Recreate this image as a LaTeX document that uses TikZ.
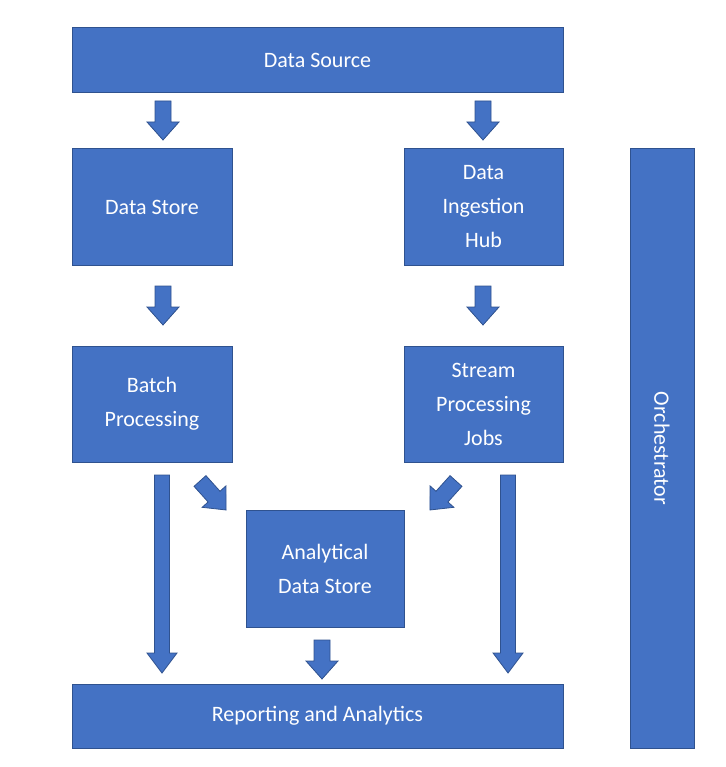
\documentclass[tikz,border=0pt]{standalone}
\usepackage{fontspec}
\setmainfont{Carlito}
\begin{document}
\begin{tikzpicture}[x=1pt,y=-1pt,
  box/.style={draw=bd,line width=1pt,fill=boxblue,text=white,font=\fontsize{22}{34}\selectfont,align=center,inner sep=0pt},
  arr/.style={fill=boxblue,draw=bd,line width=0.8pt}]
\definecolor{boxblue}{HTML}{4472C4}
\definecolor{bd}{HTML}{2F528F}
\useasboundingbox (0,0) rectangle (725,767);
% block arrow: start x,y ; length ; angle ; half shaft ; half head ; head length
\newcommand\myarrow[7]{\begin{scope}[shift={(#1,#2)},rotate=#4]
 \path[arr] (0,-#5) -- (#3-#7,-#5) -- (#3-#7,-#6) -- (#3,0) -- (#3-#7,#6) -- (#3-#7,#5) -- (0,#5) -- cycle;
 \end{scope}}
\node[box,minimum width=491,minimum height=65] (src) at (317.5,60.5) {Data Source};
\node[box,minimum width=160,minimum height=116] (ds) at (152,207) {Data Store};
\node[box,minimum width=159,minimum height=116] (ing) at (483.5,207) {Data\\Ingestion\\Hub};
\node[box,minimum width=160,minimum height=116] (bp) at (152,404) {Batch\\Processing};
\node[box,minimum width=159,minimum height=116] (sp) at (483.5,404) {Stream\\Processing\\Jobs};
\node[box,minimum width=158,minimum height=117] (ads) at (325,568.5) {Analytical\\Data Store};
\node[box,minimum width=491,minimum height=64] (rep) at (317.5,716) {Reporting and Analytics};
\node[box,minimum width=599,minimum height=64,rotate=-90] (orc) at (662,448.5) {Orchestrator};
\myarrow{163}{101}{39}{-90}{8}{16}{18}
\myarrow{483}{101}{39}{-90}{8}{16}{18}
\myarrow{163}{286}{39}{-90}{8}{16}{18}
\myarrow{483}{286}{39}{-90}{8}{16}{18}
\myarrow{322}{640}{39}{-90}{8}{16}{18}
\myarrow{162}{475}{198}{-90}{7.5}{15}{20}
\myarrow{508}{475}{198}{-90}{7.5}{15}{20}
\myarrow{200}{481}{39}{-48}{8}{16}{18}
\myarrow{456}{481}{39}{-132}{8}{16}{18}
\end{tikzpicture}
\end{document}
